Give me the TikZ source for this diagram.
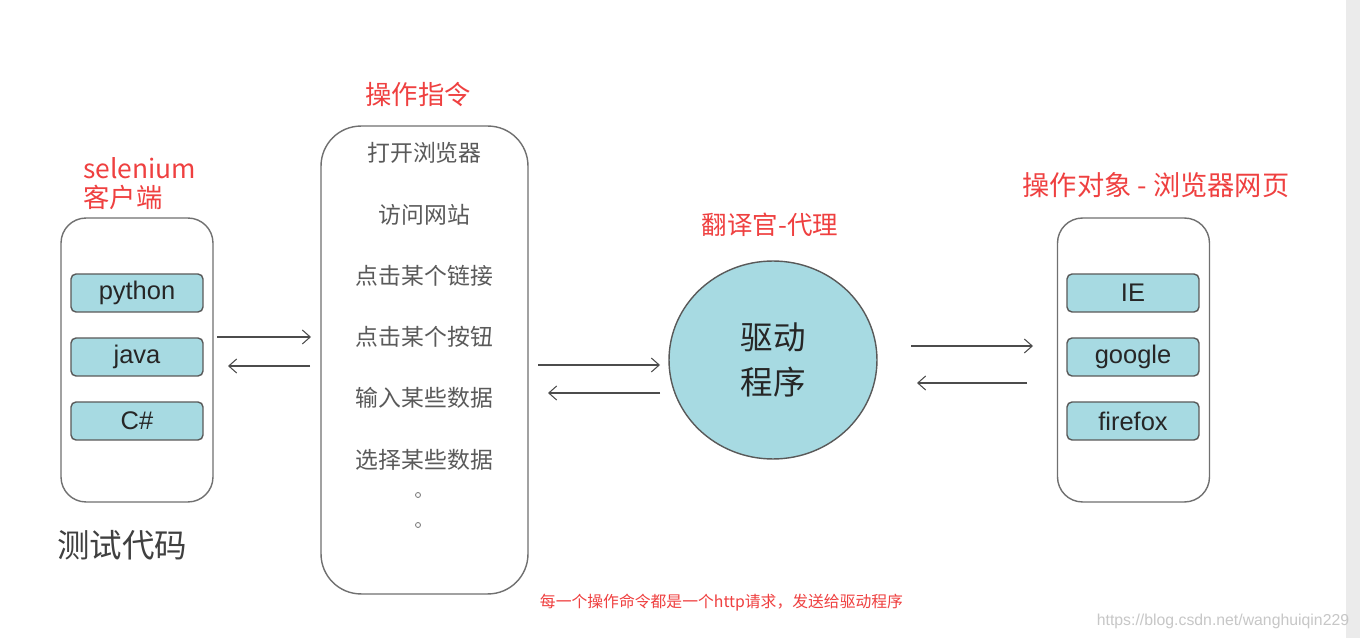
\documentclass[tikz,border=0pt]{standalone}
\usepackage{fontspec}
\setmainfont{Liberation Sans}
\newfontfamily\cjk{Noto Sans CJK SC}
\usetikzlibrary{shapes.geometric, arrows.meta}
\definecolor{boxblue}{HTML}{A7DAE2}
\definecolor{titlered}{HTML}{EF4040}
\definecolor{linegray}{HTML}{707070}
\definecolor{textgray}{HTML}{5A5A5A}
\begin{document}
\begin{tikzpicture}[x=0.02cm, y=-0.02cm,
  outerbox/.style={draw=linegray, line width=0.8pt, rounded corners=0.5cm, minimum width=3.04cm, minimum height=5.68cm},
  langbox/.style={draw=black!65, line width=0.8pt, fill=boxblue, rounded corners=0.1cm, minimum width=2.64cm, minimum height=0.76cm, inner sep=0pt, font=\fontsize{14.5}{16}\selectfont, text=black!85},
  cmdtext/.style={font=\cjk\fontsize{13}{15}\selectfont, text=textgray},
  redlabel/.style={font=\cjk\fontsize{15}{17}\selectfont, text=titlered, inner sep=0pt},
  arr/.style={-{Straight Barb[length=4.5pt, width=8pt]}, draw=black!70, line width=0.6pt}]
\fill[white] (0,0) rectangle (1360,638);
\fill[black!8] (1346,0) rectangle (1360,638);
\useasboundingbox (0,0) rectangle (1360,638);
\node[redlabel, anchor=west] (tselenium) at (83,168){selenium};
\node[redlabel, anchor=west] (tclient) at (83,197){客户端};
\node[outerbox, fill=white] (client) at (137,360){};
\node[langbox] (python) at (137,293){python};
\node[langbox] (java) at (137,357){java};
\node[langbox] (csharp) at (137,421){C\#};
\node[font=\cjk\fontsize{18.5}{20}\selectfont, text=black!75, anchor=west, inner sep=0pt] (tcode) at (57,545){测试代码};
\node[redlabel] (tcmd) at (418,95){操作指令};
\node[outerbox, fill=white, rounded corners=0.8cm, minimum width=4.14cm, minimum height=9.36cm] (cmd) at (424.5,360){};
\node[cmdtext] (c1) at (424.5,153){打开浏览器};
\node[cmdtext] (c2) at (424.5,215){访问网站};
\node[cmdtext] (c3) at (424.5,276){点击某个链接};
\node[cmdtext] (c4) at (424.5,337){点击某个按钮};
\node[cmdtext] (c5) at (424.5,398){输入某些数据};
\node[cmdtext] (c6) at (424.5,460){选择某些数据};
\node[circle, draw=black!50, line width=0.5pt, inner sep=0pt, minimum size=0.1cm] (dot1) at (418,495){};
\node[circle, draw=black!50, line width=0.5pt, inner sep=0pt, minimum size=0.1cm] (dot2) at (418,525){};
\node[redlabel, font=\cjk\fontsize{14.5}{16}\selectfont] (tdriver) at (770,225){翻译官-代理};
\node[ellipse, draw=black!65, line width=0.8pt, fill=boxblue, minimum width=4.16cm, minimum height=3.96cm, align=center, font=\cjk\fontsize{18.5}{25.5}\selectfont, text=black!85] (driver) at (773,360){驱动\\程序};
\node[redlabel, font=\cjk\fontsize{15.5}{17}\selectfont] (tbrowser) at (1156,185){操作对象 - 浏览器网页};
\node[outerbox, fill=white] (browser) at (1133.5,360){};
\node[langbox] (ie) at (1133,293){IE};
\node[langbox] (google) at (1133,357){google};
\node[langbox] (firefox) at (1133,421){firefox};
\coordinate (a1s) at (217,337);
\coordinate (a1e) at (311,337);
\coordinate (a2s) at (310,366);
\coordinate (a2e) at (228,366);
\coordinate (b1s) at (538,365);
\coordinate (b1e) at (660,365);
\coordinate (b2s) at (660,393);
\coordinate (b2e) at (548,393);
\coordinate (d1s) at (911,346);
\coordinate (d1e) at (1033,346);
\coordinate (d2s) at (1027,383);
\coordinate (d2e) at (917,383);
\draw[arr] (a1s) -- (a1e);
\draw[arr] (a2s) -- (a2e);
\draw[arr] (b1s) -- (b1e);
\draw[arr] (b2s) -- (b2e);
\draw[arr] (d1s) -- (d1e);
\draw[arr] (d2s) -- (d2e);
\node[font=\cjk\fontsize{9}{11}\selectfont, text=titlered, inner sep=0pt] (tnote) at (721.5,603){每一个操作命令都是一个http请求，发送给驱动程序};
\node[font=\fontsize{9}{10}\selectfont, text=black!22, inner sep=0pt] (tmark) at (1223,621){https://blog.csdn.net/wanghuiqin229};
\end{tikzpicture}
\end{document}
